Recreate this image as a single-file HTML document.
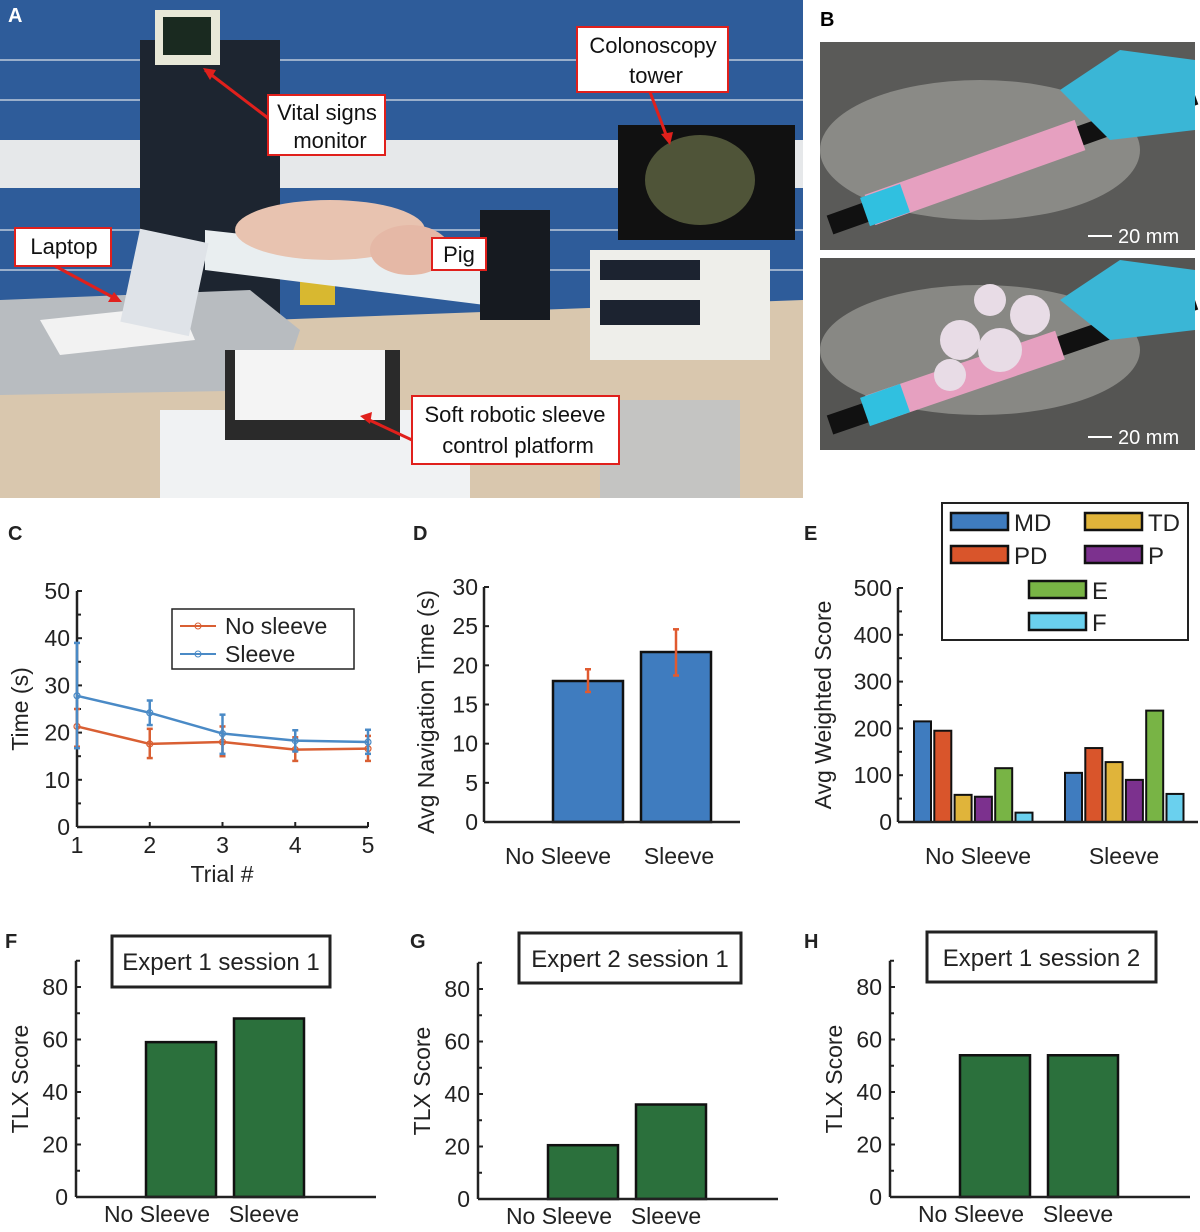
<!DOCTYPE html>
<html><head><meta charset="utf-8"><style>
body{margin:0;background:#fff;width:1200px;height:1227px;overflow:hidden}
svg{font-family:"Liberation Sans",sans-serif}
</style></head><body>
<svg id="fig" width="1200" height="1227" viewBox="0 0 1200 1227">
<g>
<rect x="0" y="0" width="803" height="498" fill="#2e5c9a"/>
<g stroke="#c9d3e0" stroke-width="2" opacity="0.7">
<line x1="0" y1="60" x2="803" y2="60"/><line x1="0" y1="100" x2="803" y2="100"/>
<line x1="0" y1="230" x2="803" y2="230"/><line x1="0" y1="270" x2="803" y2="270"/>
</g>
<rect x="0" y="140" width="803" height="48" fill="#e6e8ea"/>
<polygon points="0,330 803,300 803,498 0,498" fill="#d9c7ae"/>
<rect x="140" y="40" width="140" height="300" fill="#1d2530"/>
<rect x="155" y="10" width="65" height="55" fill="#e8e8d8"/>
<rect x="163" y="17" width="48" height="38" fill="#1a2a20"/>
<rect x="300" y="225" width="35" height="80" fill="#d8b830"/>
<polygon points="205,230 520,265 525,310 205,270" fill="#e9eef0"/>
<ellipse cx="330" cy="230" rx="95" ry="30" fill="#e8c3b0"/>
<ellipse cx="410" cy="250" rx="40" ry="25" fill="#e5b8a6"/>
<polygon points="0,300 250,290 300,330 280,390 0,395" fill="#b8bcc0"/>
<polygon points="40,320 180,305 195,340 60,355" fill="#f2f2f2"/>
<rect x="130" y="235" width="70" height="95" fill="#dfe3e8" transform="rotate(12 165 280)"/>
<rect x="618" y="125" width="177" height="115" fill="#111"/>
<ellipse cx="700" cy="180" rx="55" ry="45" fill="#4f5438"/>
<rect x="590" y="250" width="180" height="110" fill="#eeeeea"/>
<rect x="600" y="260" width="100" height="20" fill="#1c2330"/>
<rect x="600" y="300" width="100" height="25" fill="#1c2330"/>
<rect x="480" y="210" width="70" height="110" fill="#161a20"/>
<rect x="160" y="410" width="310" height="88" fill="#f0f2f3"/>
<rect x="225" y="350" width="175" height="90" fill="#2a2a2a"/>
<rect x="235" y="350" width="150" height="70" fill="#f4f4f4"/>
<rect x="600" y="400" width="140" height="98" fill="#c4c4c2"/>
</g>
<text x="8" y="22" font-size="20" font-weight="bold" fill="#fff">A</text>
<g stroke="#e0201c" stroke-width="3" fill="none">
<line x1="268" y1="118" x2="205" y2="70"/><line x1="650" y1="92" x2="668" y2="140"/>
<line x1="55" y1="266" x2="118" y2="300"/><line x1="412" y1="440" x2="365" y2="418"/>
</g>
<g fill="#e0201c"><polygon points="203,68 216,70 210,80"/><polygon points="670,145 661,134 673,132"/><polygon points="122,302 108,302 114,292"/><polygon points="360,416 372,412 370,424"/></g>
<g font-size="22" fill="#111" text-anchor="middle">
<rect x="268" y="95" width="117" height="60" fill="#fff" stroke="#e0201c" stroke-width="2"/>
<text x="327" y="120">Vital signs</text><text x="330" y="148">monitor</text>
<rect x="577" y="27" width="151" height="65" fill="#fff" stroke="#e0201c" stroke-width="2"/>
<text x="653" y="53">Colonoscopy</text><text x="656" y="83">tower</text>
<rect x="15" y="228" width="96" height="38" fill="#fff" stroke="#e0201c" stroke-width="2"/>
<text x="64" y="254">Laptop</text>
<rect x="432" y="238" width="54" height="32" fill="#fff" stroke="#e0201c" stroke-width="2"/>
<text x="459" y="262">Pig</text>
<rect x="412" y="396" width="207" height="68" fill="#fff" stroke="#e0201c" stroke-width="2"/>
<text x="515" y="422">Soft robotic sleeve</text><text x="518" y="453">control platform</text>
</g>
<text x="820" y="26" font-size="20" font-weight="bold">B</text>
<g>
<rect x="820" y="42" width="375" height="208" fill="#5a5a58"/>
<ellipse cx="980" cy="150" rx="160" ry="70" fill="#8a8a86"/>
<line x1="830" y1="225" x2="1195" y2="95" stroke="#111" stroke-width="20"/>
<line x1="870" y1="210" x2="1080" y2="135" stroke="#e6a0c0" stroke-width="32"/>
<line x1="865" y1="212" x2="905" y2="198" stroke="#30c0e0" stroke-width="30"/>
<polygon points="1060,90 1120,50 1195,60 1195,130 1110,140" fill="#3ab6d6"/>
<line x1="1088" y1="236" x2="1112" y2="236" stroke="#fff" stroke-width="2"/>
<text x="1118" y="243" font-size="20" fill="#fff">20 mm</text>
</g>
<g>
<rect x="820" y="258" width="375" height="192" fill="#555553"/>
<ellipse cx="980" cy="350" rx="160" ry="65" fill="#888884"/>
<line x1="830" y1="425" x2="1195" y2="300" stroke="#111" stroke-width="20"/>
<line x1="870" y1="410" x2="1060" y2="345" stroke="#e6a0c0" stroke-width="30"/>
<line x1="865" y1="412" x2="905" y2="398" stroke="#30c0e0" stroke-width="30"/>
<g fill="#e8dce6"><circle cx="960" cy="340" r="20"/><circle cx="1000" cy="350" r="22"/><circle cx="1030" cy="315" r="20"/><circle cx="950" cy="375" r="16"/><circle cx="990" cy="300" r="16"/></g>
<polygon points="1060,300 1120,260 1195,270 1195,330 1110,340" fill="#3ab6d6"/>
<line x1="1088" y1="437" x2="1112" y2="437" stroke="#fff" stroke-width="2"/>
<text x="1118" y="444" font-size="20" fill="#fff">20 mm</text>
</g>
<g id="charts"></g>
</svg>
<script>
const trials=[1,2,3,4,5];
const noSleeveMean=[21.3,17.6,18.0,16.4,16.6];
const noSleeveLo=[17.0,14.6,15.0,14.0,14.0];
const noSleeveHi=[25.0,20.8,21.3,19.0,19.3];
const sleeveMean=[27.8,24.2,19.8,18.3,18.0];
const sleeveLo=[16.7,21.6,15.5,16.0,15.5];
const sleeveHi=[39.0,26.8,23.8,20.5,20.6];
const cTicks=[0,10,20,30,40,50];
const dCats=['No Sleeve','Sleeve'];
const dMeans=[18.0,21.7];
const dLo=[16.6,18.7];
const dHi=[19.5,24.6];
const dTicks=[0,5,10,15,20,25,30];
const eCats=['No Sleeve','Sleeve'];
const eSeries=['MD','PD','TD','P','E','F'];
const eNoSleeve=[215,195,58,54,115,20];
const eSleeve=[105,158,128,90,238,60];
const eTicks=[0,100,200,300,400,500];
const tlxTitles=['Expert 1 session 1','Expert 2 session 1','Expert 1 session 2'];
const tlxNoSleeve=[59,20.5,54];
const tlxSleeve=[68,36,54];
const tlxTicks=[0,20,40,60,80];

const NS='http://www.w3.org/2000/svg';
const root=document.getElementById('charts');
function el(tag,attrs,parent){const e=document.createElementNS(NS,tag);for(const k in attrs)e.setAttribute(k,attrs[k]);(parent||root).appendChild(e);return e;}
function txt(x,y,s,size,anchor,parent){const t=el('text',{x:x,y:y,'font-size':size,'text-anchor':anchor||'middle',fill:'#222'},parent);t.textContent=s;return t;}
const AX='#222';

(function(){
 const g=el('g',{});
 
 
 const x=v=>77+(v-1)*(368-77)/4, y=v=>827-v*(827-591)/50;
 const lab=txt(8,540,'C',20,'start',g);lab.setAttribute('font-weight','bold');
 
 
 el('line',{x1:77,y1:591,x2:77,y2:827,stroke:AX,'stroke-width':2.5},g);
 el('line',{x1:77,y1:827,x2:368,y2:827,stroke:AX,'stroke-width':2.5},g);
 cTicks.forEach((t,i)=>{txt(70,y(t)+8,String(t),23,'end',g);el('line',{x1:77,y1:y(t),x2:82,y2:y(t),stroke:AX,'stroke-width':2},g);if(i<cTicks.length-1)el('line',{x1:77,y1:y(t+5),x2:81,y2:y(t+5),stroke:AX,'stroke-width':2},g);});
 trials.forEach(t=>{txt(x(t),853,String(t),23,'middle',g);el('line',{x1:x(t),y1:827,x2:x(t),y2:822,stroke:AX,'stroke-width':2},g);});
 txt(222,882,'Trial #',23,'middle',g);
 const yl=txt(0,0,'Time (s)',23,'middle',g);yl.setAttribute('transform','translate(28,709) rotate(-90)');
 function series(m,lo,hi,col,name){
  const s=el('g',{},g);
  
  
  el('polyline',{points:m.map((v,i)=>x(trials[i])+','+y(v)).join(' '),fill:'none',stroke:col,'stroke-width':2.5},s);
  m.forEach((v,i)=>{const xx=x(trials[i]);
   el('line',{x1:xx,y1:y(lo[i]),x2:xx,y2:y(hi[i]),stroke:col,'stroke-width':2.5},s);
   el('line',{x1:xx-3,y1:y(lo[i]),x2:xx+3,y2:y(lo[i]),stroke:col,'stroke-width':2.5},s);
   el('line',{x1:xx-3,y1:y(hi[i]),x2:xx+3,y2:y(hi[i]),stroke:col,'stroke-width':2.5},s);
   el('circle',{cx:xx,cy:y(v),r:3,fill:'none',stroke:col,'stroke-width':1.2},s);});
 }
 series(noSleeveMean,noSleeveLo,noSleeveHi,'#d95f33','series-no-sleeve');
 series(sleeveMean,sleeveLo,sleeveHi,'#4a8ac6','series-sleeve');
 const lg=el('g',{},g);
 
 
 el('rect',{x:172,y:609,width:182,height:60,fill:'#fff',stroke:AX,'stroke-width':1.5},lg);
 el('line',{x1:180,y1:626,x2:216,y2:626,stroke:'#d95f33','stroke-width':2},lg);el('circle',{cx:198,cy:626,r:3,fill:'none',stroke:'#d95f33'},lg);
 el('line',{x1:180,y1:654,x2:216,y2:654,stroke:'#4a8ac6','stroke-width':2},lg);el('circle',{cx:198,cy:654,r:3,fill:'none',stroke:'#4a8ac6'},lg);
 txt(225,634,'No sleeve',23,'start',lg);txt(225,662,'Sleeve',23,'start',lg);
})();

(function(){
 const g=el('g',{});
 
 
 const y=v=>822-v*(822-587)/30; const cx=[588,676];
 const lab=txt(413,540,'D',20,'start',g);lab.setAttribute('font-weight','bold');
 el('line',{x1:484,y1:587,x2:484,y2:822,stroke:AX,'stroke-width':2.5},g);
 dTicks.forEach(t=>{txt(478,y(t)+8,String(t),23,'end',g);el('line',{x1:484,y1:y(t),x2:489,y2:y(t),stroke:AX,'stroke-width':2},g);});
 const yl=txt(0,0,'Avg Navigation Time (s)',23,'middle',g);yl.setAttribute('transform','translate(434,712) rotate(-90)');
 dMeans.forEach((v,i)=>{
  const b=el('rect',{x:cx[i]-35,y:y(v),width:70,height:822-y(v),fill:'#3f7cbf',stroke:'#111','stroke-width':2.5},g);
  
  
  el('line',{x1:cx[i],y1:y(dLo[i]),x2:cx[i],y2:y(dHi[i]),stroke:'#e05a30','stroke-width':2.5},g);
  el('line',{x1:cx[i]-3,y1:y(dLo[i]),x2:cx[i]+3,y2:y(dLo[i]),stroke:'#e05a30','stroke-width':2.5},g);
  el('line',{x1:cx[i]-3,y1:y(dHi[i]),x2:cx[i]+3,y2:y(dHi[i]),stroke:'#e05a30','stroke-width':2.5},g);
 });
 txt(558,864,dCats[0],23,'middle',g);txt(679,864,dCats[1],23,'middle',g);
 el('line',{x1:484,y1:822,x2:740,y2:822,stroke:AX,'stroke-width':2.5},g);
})();

(function(){
 const g=el('g',{});
 
 
 const y=v=>822-v*(822-588)/500;
 const cols=['#3f7cbf','#d9552b','#e0b43a','#7c318e','#78b445','#6ad0ee'];
 const gx=[914,1065];
 const lab=txt(804,540,'E',20,'start',g);lab.setAttribute('font-weight','bold');
 el('line',{x1:898,y1:588,x2:898,y2:822,stroke:AX,'stroke-width':2.5},g);
 eTicks.forEach((t,i)=>{txt(892,y(t)+8,String(t),23,'end',g);el('line',{x1:898,y1:y(t),x2:903,y2:y(t),stroke:AX,'stroke-width':2},g);if(i<eTicks.length-1)el('line',{x1:898,y1:y(t+50),x2:902,y2:y(t+50),stroke:AX,'stroke-width':2},g);});
 const yl=txt(0,0,'Avg Weighted Score',23,'middle',g);yl.setAttribute('transform','translate(831,705) rotate(-90)');
 [eNoSleeve,eSleeve].forEach((arr,gi)=>{arr.forEach((v,i)=>{
  const b=el('rect',{x:gx[gi]+i*20.3,y:y(v),width:17,height:822-y(v),fill:cols[i],stroke:'#111','stroke-width':2},g);
  
  
 });});
 txt(978,864,eCats[0],23,'middle',g);txt(1124,864,eCats[1],23,'middle',g);
 el('line',{x1:898,y1:822,x2:1198,y2:822,stroke:AX,'stroke-width':2.5},g);
 const lg=el('g',{},g);
 
 
 el('rect',{x:942,y:503,width:246,height:137,fill:'#fff',stroke:AX,'stroke-width':2},lg);
 const pos=[[951,513],[951,546],[1085,513],[1085,546],[1029,581],[1029,613]];
 pos.forEach((p,i)=>{el('rect',{x:p[0],y:p[1],width:57,height:17,fill:cols[i],stroke:'#111','stroke-width':2.5},lg);txt(p[0]+63,p[1]+18,eSeries[i],24,'start',lg);});
})();

const tlxLayout=[{ax:76,y0:1197,lab:'F',lx:5,box:[112,936,218,51]},{ax:478,y0:1199,lab:'G',lx:410,box:[519,933,222,50]},{ax:890,y0:1197,lab:'H',lx:804,box:[927,932,229,50]}];
tlxLayout.forEach((L,k)=>{
 const g=el('g',{});
 
 
 const pxPer=(1197-987)/80; const y=v=>L.y0-v*pxPer;
 const lab=txt(L.lx,948,L.lab,20,'start',g);lab.setAttribute('font-weight','bold');
 el('line',{x1:L.ax,y1:y(90),x2:L.ax,y2:L.y0,stroke:AX,'stroke-width':2.5},g);
 tlxTicks.forEach(t=>{txt(L.ax-8,y(t)+8,String(t),23,'end',g);el('line',{x1:L.ax,y1:y(t),x2:L.ax+5,y2:y(t),stroke:AX,'stroke-width':2},g);el('line',{x1:L.ax,y1:y(t+10),x2:L.ax+4,y2:y(t+10),stroke:AX,'stroke-width':2},g);});
 const yl=txt(0,0,'TLX Score',23,'middle',g);yl.setAttribute('transform','translate('+(L.ax-48)+','+(L.y0-118)+') rotate(-90)');
 const cx=[L.ax+105,L.ax+193];
 [tlxNoSleeve[k],tlxSleeve[k]].forEach((v,i)=>{
  const b=el('rect',{x:cx[i]-35,y:y(v),width:70,height:L.y0-y(v),fill:'#2b703c',stroke:'#111','stroke-width':2.5},g);
  
  
 });
 txt(cx[0]-24,L.y0+25,'No Sleeve',23,'middle',g);txt(cx[1]-5,L.y0+25,'Sleeve',23,'middle',g);
 el('line',{x1:L.ax,y1:L.y0,x2:L.ax+300,y2:L.y0,stroke:AX,'stroke-width':2.5},g);
 el('rect',{x:L.box[0],y:L.box[1],width:L.box[2],height:L.box[3],fill:'#fff',stroke:'#222','stroke-width':3},g);
 const tt=txt(L.box[0]+L.box[2]/2,L.box[1]+34,tlxTitles[k],24,'middle',g);
 
 
});
</script>
</body></html>
